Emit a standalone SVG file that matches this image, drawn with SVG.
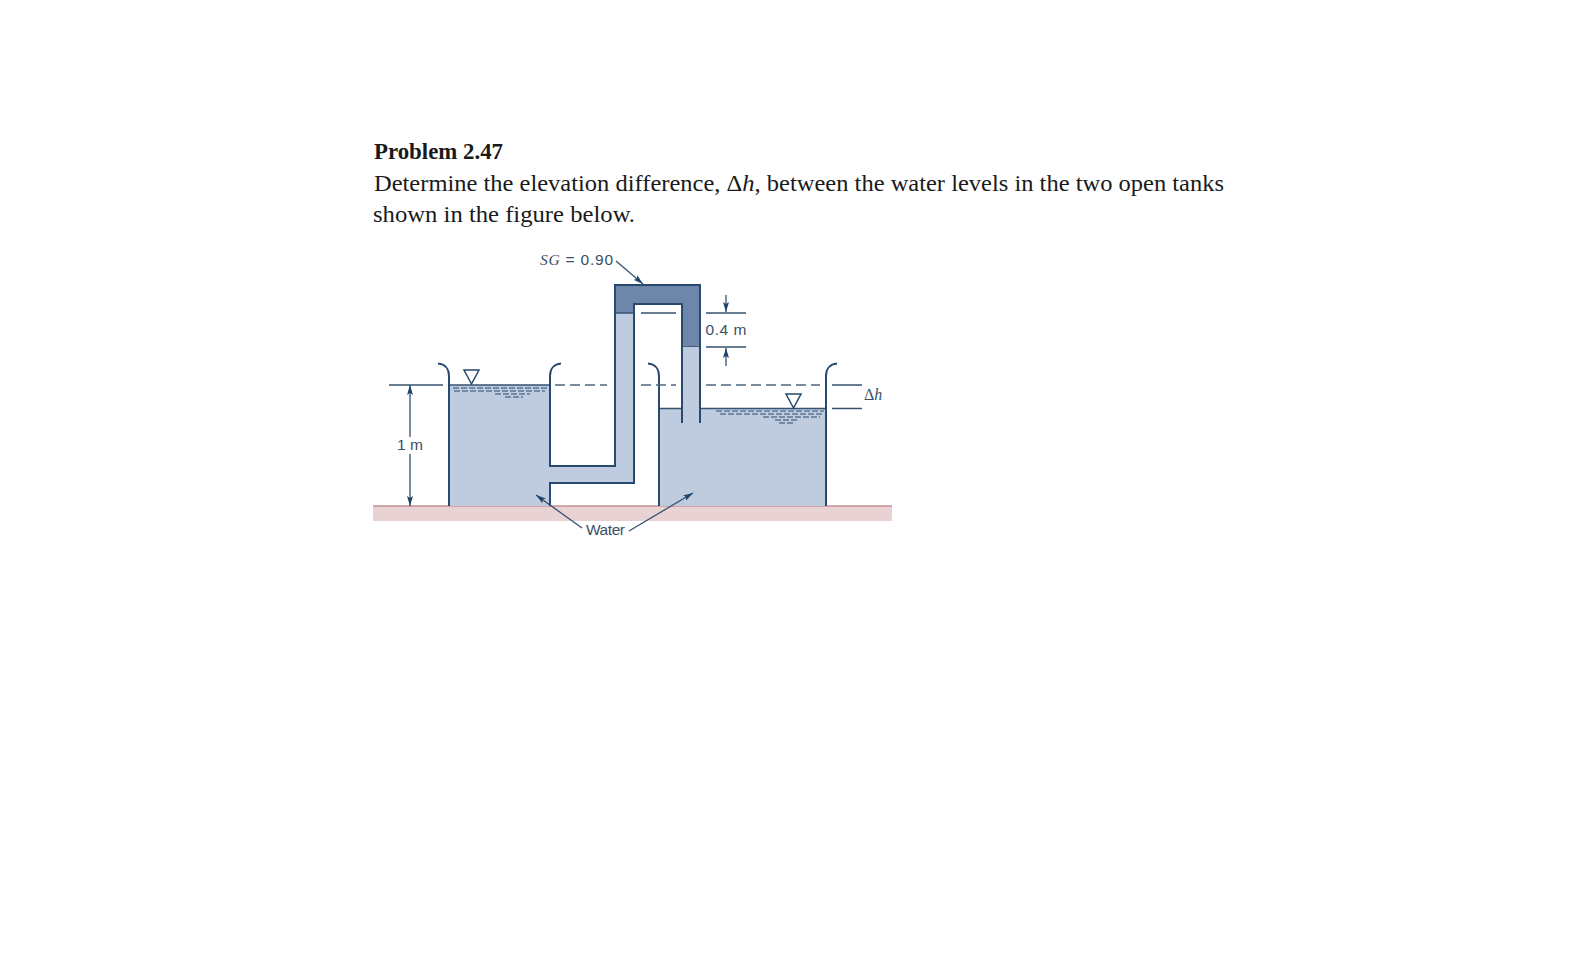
<svg xmlns="http://www.w3.org/2000/svg" width="1590" height="977" viewBox="0 0 1590 977">
<style>
.body{font-family:"Liberation Serif","Times New Roman",serif;font-size:24px;fill:#1a1a1a}
.lab{font-family:"Liberation Sans",Arial,sans-serif;font-size:15.5px;fill:#3a4f68}
.wall{fill:none;stroke:#284a6e;stroke-width:2}
.thin{fill:none;stroke:#35526f;stroke-width:1.3}
.dash{fill:none;stroke:#4d6680;stroke-width:1.5;stroke-dasharray:10 5}
.ripple{fill:none;stroke:#2c4c6c;stroke-width:1.2;stroke-dasharray:6 2}
.water{fill:#bfcbde}
.oil{fill:#6f86ab}
.tri{fill:#fff;stroke:#24496c;stroke-width:1.5}
</style>
<defs>
<marker id="ah" viewBox="0 0 10 6" refX="10" refY="3" markerWidth="10" markerHeight="6" markerUnits="userSpaceOnUse" orient="auto"><path d="M0 0L10 3L0 6L2 3Z" fill="#1f4468"/></marker>
</defs>
<rect width="1590" height="977" fill="#fff"/>
<g id="problem-text">
<text class="body" x="374" y="159" font-weight="bold" textLength="129" lengthAdjust="spacingAndGlyphs">Problem 2.47</text>
<text class="body" x="374" y="191" textLength="850" lengthAdjust="spacingAndGlyphs">Determine the elevation difference, Δ<tspan font-style="italic">h</tspan>, between the water levels in the two open tanks</text>
<text class="body" x="373" y="222" textLength="262" lengthAdjust="spacingAndGlyphs">shown in the figure below.</text>
</g>
<g id="ground"><rect x="373" y="506" width="519" height="15" fill="#e8d2d4"/><path d="M373 506H892" stroke="#c88f93" stroke-width="1.500"/></g>
<g id="left-tank">
<path class="water" d="M449 385H550V466H615V313H634V483H550V506H449Z"/>
<path class="thin" d="M449 385H550"/>
<path class="wall" d="M438 363.500C445 364 449 369 449 376V506"/>
<path class="wall" d="M561 363.500C554 364 550 369 550 376V466H615V285"/>
<path class="wall" d="M550 506V483H634V304"/>
<path class="ripple" d="M453 388H548M454 391H545M495 394H530M505 397H523"/>
<path class="tri" d="M464 370H479L471.500 384Z"/>
</g>
<g id="u-tube">
<path class="oil" d="M615 285H700V347H682V304H634V313H615Z"/>
<path class="water" d="M682 347H700V423H682Z"/>
<path class="thin" d="M615 313H634M682 347H700"/>
<path class="wall" d="M615 313V285H700V423M634 313V304H682V423"/>
</g>
<g id="right-tank">
<path class="water" d="M659 408.500H682V423H700V408.500H826V506H659Z"/>
<path class="water" d="M682 347H700V423H682Z"/>
<path class="thin" d="M659 408.500H682M700 408.500H826"/>
<path class="wall" d="M648 363.500C655 364 659 369 659 376V506"/>
<path class="wall" d="M837 363.500C830 364 826 369 826 376V506"/>
<path class="wall" d="M682 347V423M700 347V423"/>
<path class="ripple" d="M716 411H824M720 414H823M763 417H820M775 420H797M779 423H795"/>
<path class="tri" d="M786 394H801L793.500 408Z"/>
</g>
<g id="connectors">
<path class="thin" d="M389 385H443"/>
<path class="thin" d="M410 398V437M410 454V494"/>
<path class="thin" d="M410 398L410 385" marker-end="url(#ah)"/>
<path class="thin" d="M410 494L410 506" marker-end="url(#ah)"/>
<path class="dash" d="M555 385H607M641 385H676M706 385H820"/>
<path class="thin" d="M641 313H676M706 313H746M706 347H746"/>
<path class="thin" d="M726 295V312" marker-end="url(#ah)"/>
<path class="thin" d="M726 366V348" marker-end="url(#ah)"/>
<path class="thin" d="M832 385H862M832 408.500H862"/>
<path class="thin" d="M616 261L643 284" marker-end="url(#ah)"/>
<path class="thin" d="M582 528L536 495" marker-end="url(#ah)"/>
<path class="thin" d="M629 531L693 493" marker-end="url(#ah)"/>
</g>
<g id="labels">
<text class="lab" x="540" y="265" textLength="73"><tspan font-family="Liberation Serif" font-style="italic">SG</tspan> = 0.90</text>
<text class="lab" x="705.500" y="335" textLength="41">0.4 m</text>
<text class="lab" x="397" y="450" textLength="26">1 m</text>
<text class="lab" x="586" y="535" textLength="39">Water</text>
<text class="lab" x="864" y="400" style="font-family:'Liberation Serif',serif;font-size:16px">Δ<tspan font-style="italic">h</tspan></text>
</g>
</svg>
